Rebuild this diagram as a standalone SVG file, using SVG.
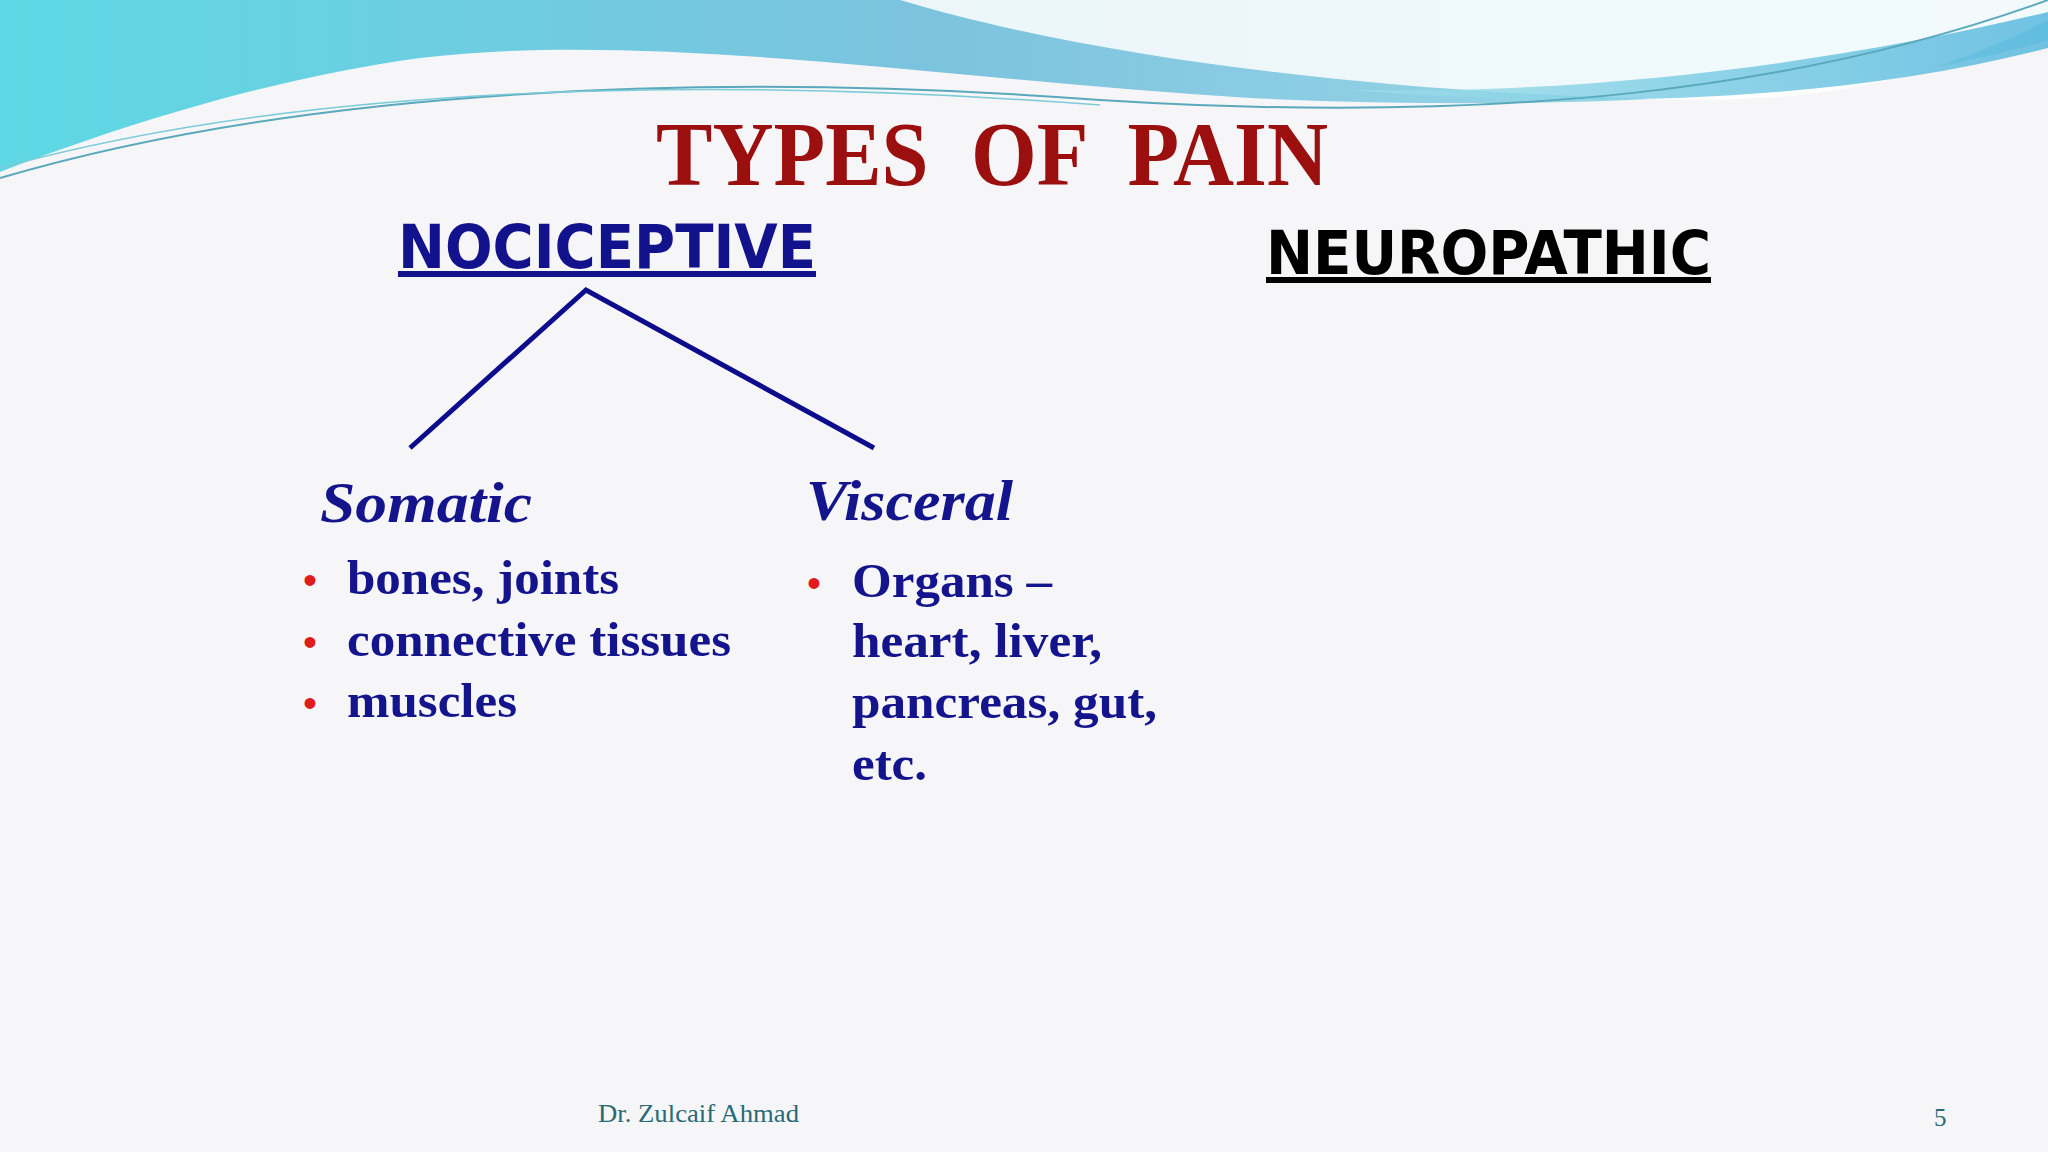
<svg xmlns="http://www.w3.org/2000/svg" width="2048" height="1152" viewBox="0 0 2048 1152">
<defs>
<linearGradient id="g1" x1="0" y1="0" x2="1" y2="0">
<stop offset="0" stop-color="#5ed8e4"/><stop offset="0.45" stop-color="#7cc3de"/><stop offset="1" stop-color="#a9e0ec"/>
</linearGradient>
<linearGradient id="g2" x1="0" y1="0" x2="1" y2="0">
<stop offset="0" stop-color="#9fe0ea"/><stop offset="1" stop-color="#4fb4dc"/>
</linearGradient>
<style>
.h{font-family:"DejaVu Sans","Liberation Sans",sans-serif;font-weight:bold;text-decoration:underline}
.t{font-family:"Liberation Serif",serif;font-weight:bold;fill:#14148c}
.s{font-family:"Liberation Serif",serif;font-weight:bold;font-style:italic;fill:#14148c}
.b{fill:#e01b1b;font-family:"Liberation Sans",sans-serif}
.ln{stroke:#0c0c8c;stroke-width:5;fill:none}
</style>
</defs>
<rect width="2048" height="1152" fill="#f6f6f8"/>
<g id="header">
<path d="M0,0 H2048 V40 C1850,100 1550,112 1250,98 C950,80 650,30 420,58 C260,80 110,130 0,172 Z" fill="url(#g1)"/>
<path d="M900,0 C1100,60 1400,95 1700,100 C1850,100 1950,70 2048,20 V0 Z" fill="#ffffff" opacity="0.85"/>
<path d="M1350,90 C1600,95 1850,60 2048,12 V48 C1850,100 1600,110 1350,90 Z" fill="url(#g2)" opacity="0.8"/>
<path d="M0,178 C300,90 700,70 1100,100 C1500,125 1800,90 2048,0" stroke="#5aa8bc" stroke-width="2" fill="none"/>
<path d="M0,168 C300,85 700,75 1100,105" stroke="#7ccbd8" stroke-width="1.5" fill="none"/>
</g>
<g id="title"><text x="992" y="185" text-anchor="middle" font-family="Liberation Serif,serif" font-weight="bold" font-size="92" fill="#9b0f0f" textLength="672" lengthAdjust="spacingAndGlyphs" xml:space="preserve">TYPES  OF  PAIN</text></g>
<g id="nociceptive"><text class="h" x="398" y="268" font-size="60" fill="#12128c" textLength="418" lengthAdjust="spacingAndGlyphs">NOCICEPTIVE</text></g>
<g id="neuropathic"><text class="h" x="1266" y="274" font-size="60" fill="#000" textLength="445" lengthAdjust="spacingAndGlyphs">NEUROPATHIC</text></g>
<g id="connectors">
<polyline class="ln" points="410,448 586,290 874,448"/>
</g>
<g id="somatic">
<text class="s" x="320" y="522" font-size="56" textLength="212" lengthAdjust="spacingAndGlyphs">Somatic</text>
<text class="b" x="303" y="594" font-size="40">•</text><text class="t" x="347" y="594" font-size="48" textLength="272" lengthAdjust="spacingAndGlyphs">bones, joints</text>
<text class="b" x="303" y="656" font-size="40">•</text><text class="t" x="347" y="656" font-size="48" textLength="384" lengthAdjust="spacingAndGlyphs">connective tissues</text>
<text class="b" x="303" y="717" font-size="40">•</text><text class="t" x="347" y="717" font-size="48" textLength="170" lengthAdjust="spacingAndGlyphs">muscles</text>
</g>
<g id="visceral">
<text class="s" x="806" y="520" font-size="56" textLength="207" lengthAdjust="spacingAndGlyphs">Visceral</text>
<text class="b" x="807" y="597" font-size="40">•</text><text class="t" x="852" y="597" font-size="48" textLength="200" lengthAdjust="spacingAndGlyphs">Organs –</text>
<text class="t" x="852" y="657" font-size="48" textLength="250" lengthAdjust="spacingAndGlyphs">heart, liver,</text>
<text class="t" x="852" y="718" font-size="48" textLength="305" lengthAdjust="spacingAndGlyphs">pancreas, gut,</text>
<text class="t" x="852" y="780" font-size="48" textLength="75" lengthAdjust="spacingAndGlyphs">etc.</text>
</g>
<g id="footer">
<text x="598" y="1122" font-family="Liberation Serif,serif" font-size="25" fill="#2a6a74" textLength="201" lengthAdjust="spacingAndGlyphs">Dr. Zulcaif Ahmad</text>
<text x="1934" y="1126" font-family="Liberation Serif,serif" font-size="25" fill="#2a6a74">5</text>
</g>
</svg>
